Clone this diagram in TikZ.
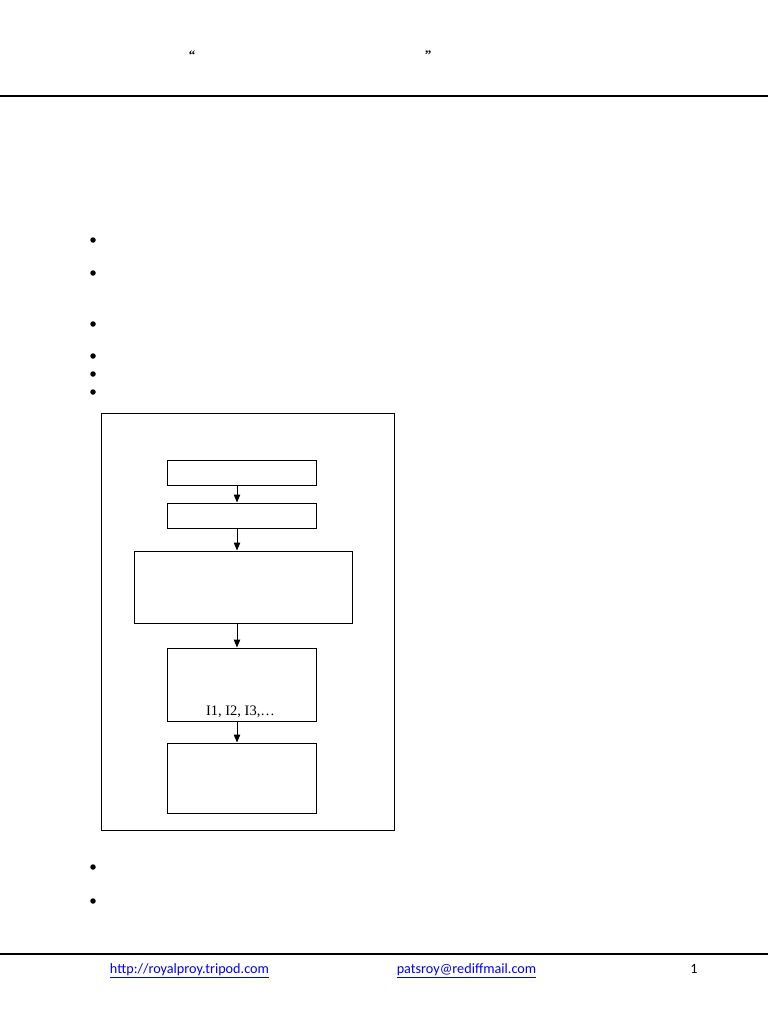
\documentclass[tikz,border=0pt]{standalone}
\usepackage{fontspec}
\setmainfont{Liberation Serif}
\newfontfamily\footfont{Carlito}
\usetikzlibrary{arrows.meta}
\definecolor{linkblue}{RGB}{0,0,255}
\tikzset{
  flowbox/.style 2 args={draw, line width=1pt, minimum width=#1, minimum height=#2, inner sep=0pt},
  flowarrow/.style={-{Triangle[length=8pt,width=6.5pt]}, line width=1pt},
  bulletdot/.style={circle, fill=black, inner sep=0pt, minimum size=5.5pt},
  rule/.style={line width=2.2pt},
  foot/.style={font=\footfont\fontsize{14.2}{16}\selectfont, anchor=base},
  link/.style={foot, text=linkblue}
}
\begin{document}
\begin{tikzpicture}[x=1pt,y=-1pt]
\useasboundingbox (0,0) rectangle (768,1024);
% top quotes
\node[font=\bfseries\fontsize{13}{15}\selectfont] (lq) at (192,55) {“};
\node[font=\bfseries\fontsize{13}{15}\selectfont] (rq) at (428,55) {”};
\draw[rule] (0,96) coordinate (tl) -- (768,96) coordinate (tr);
% bullets
\foreach \y [count=\i] in {240,273,324,356,374,392,867,901}
  \node[bulletdot] (b\i) at (93,\y) {};
% outer frame
\node[flowbox={293pt}{417pt}] (frame) at (247.5,621.5) {};
% flow boxes
\node[flowbox={149pt}{25pt}] (n1) at (241.5,473) {};
\node[flowbox={149pt}{25pt}] (n2) at (241.5,515.5) {};
\node[flowbox={218pt}{72pt}] (n3) at (243,587) {};
\node[flowbox={149pt}{73pt}] (n4) at (241.5,684.5) {};
\node[flowbox={149pt}{70pt}] (n5) at (241.5,778) {};
\node[font=\fontsize{14.5}{16}\selectfont, anchor=base] (lab) at (240.5,715) {I1, I2, I3,…};
% arrows
\coordinate (ax) at (237,0);
\draw[flowarrow] (n1.south -| ax) -- (n2.north -| ax);
\draw[flowarrow] (n2.south -| ax) -- (n3.north -| ax);
\draw[flowarrow] (n3.south -| ax) -- (n4.north -| ax);
\draw[flowarrow] (n4.south -| ax) -- (n5.north -| ax);
% bottom rule and footer
\draw[rule] (0,954) coordinate (bl) -- (768,954) coordinate (br);
\node[link] (url) at (189.5,973) {\underline{http://royalproy.tripod.com}};
\node[link] (mail) at (466.5,973) {\underline{patsroy@rediffmail.com}};
\node[foot] (pg) at (694,973) {1};
\end{tikzpicture}
\end{document}
